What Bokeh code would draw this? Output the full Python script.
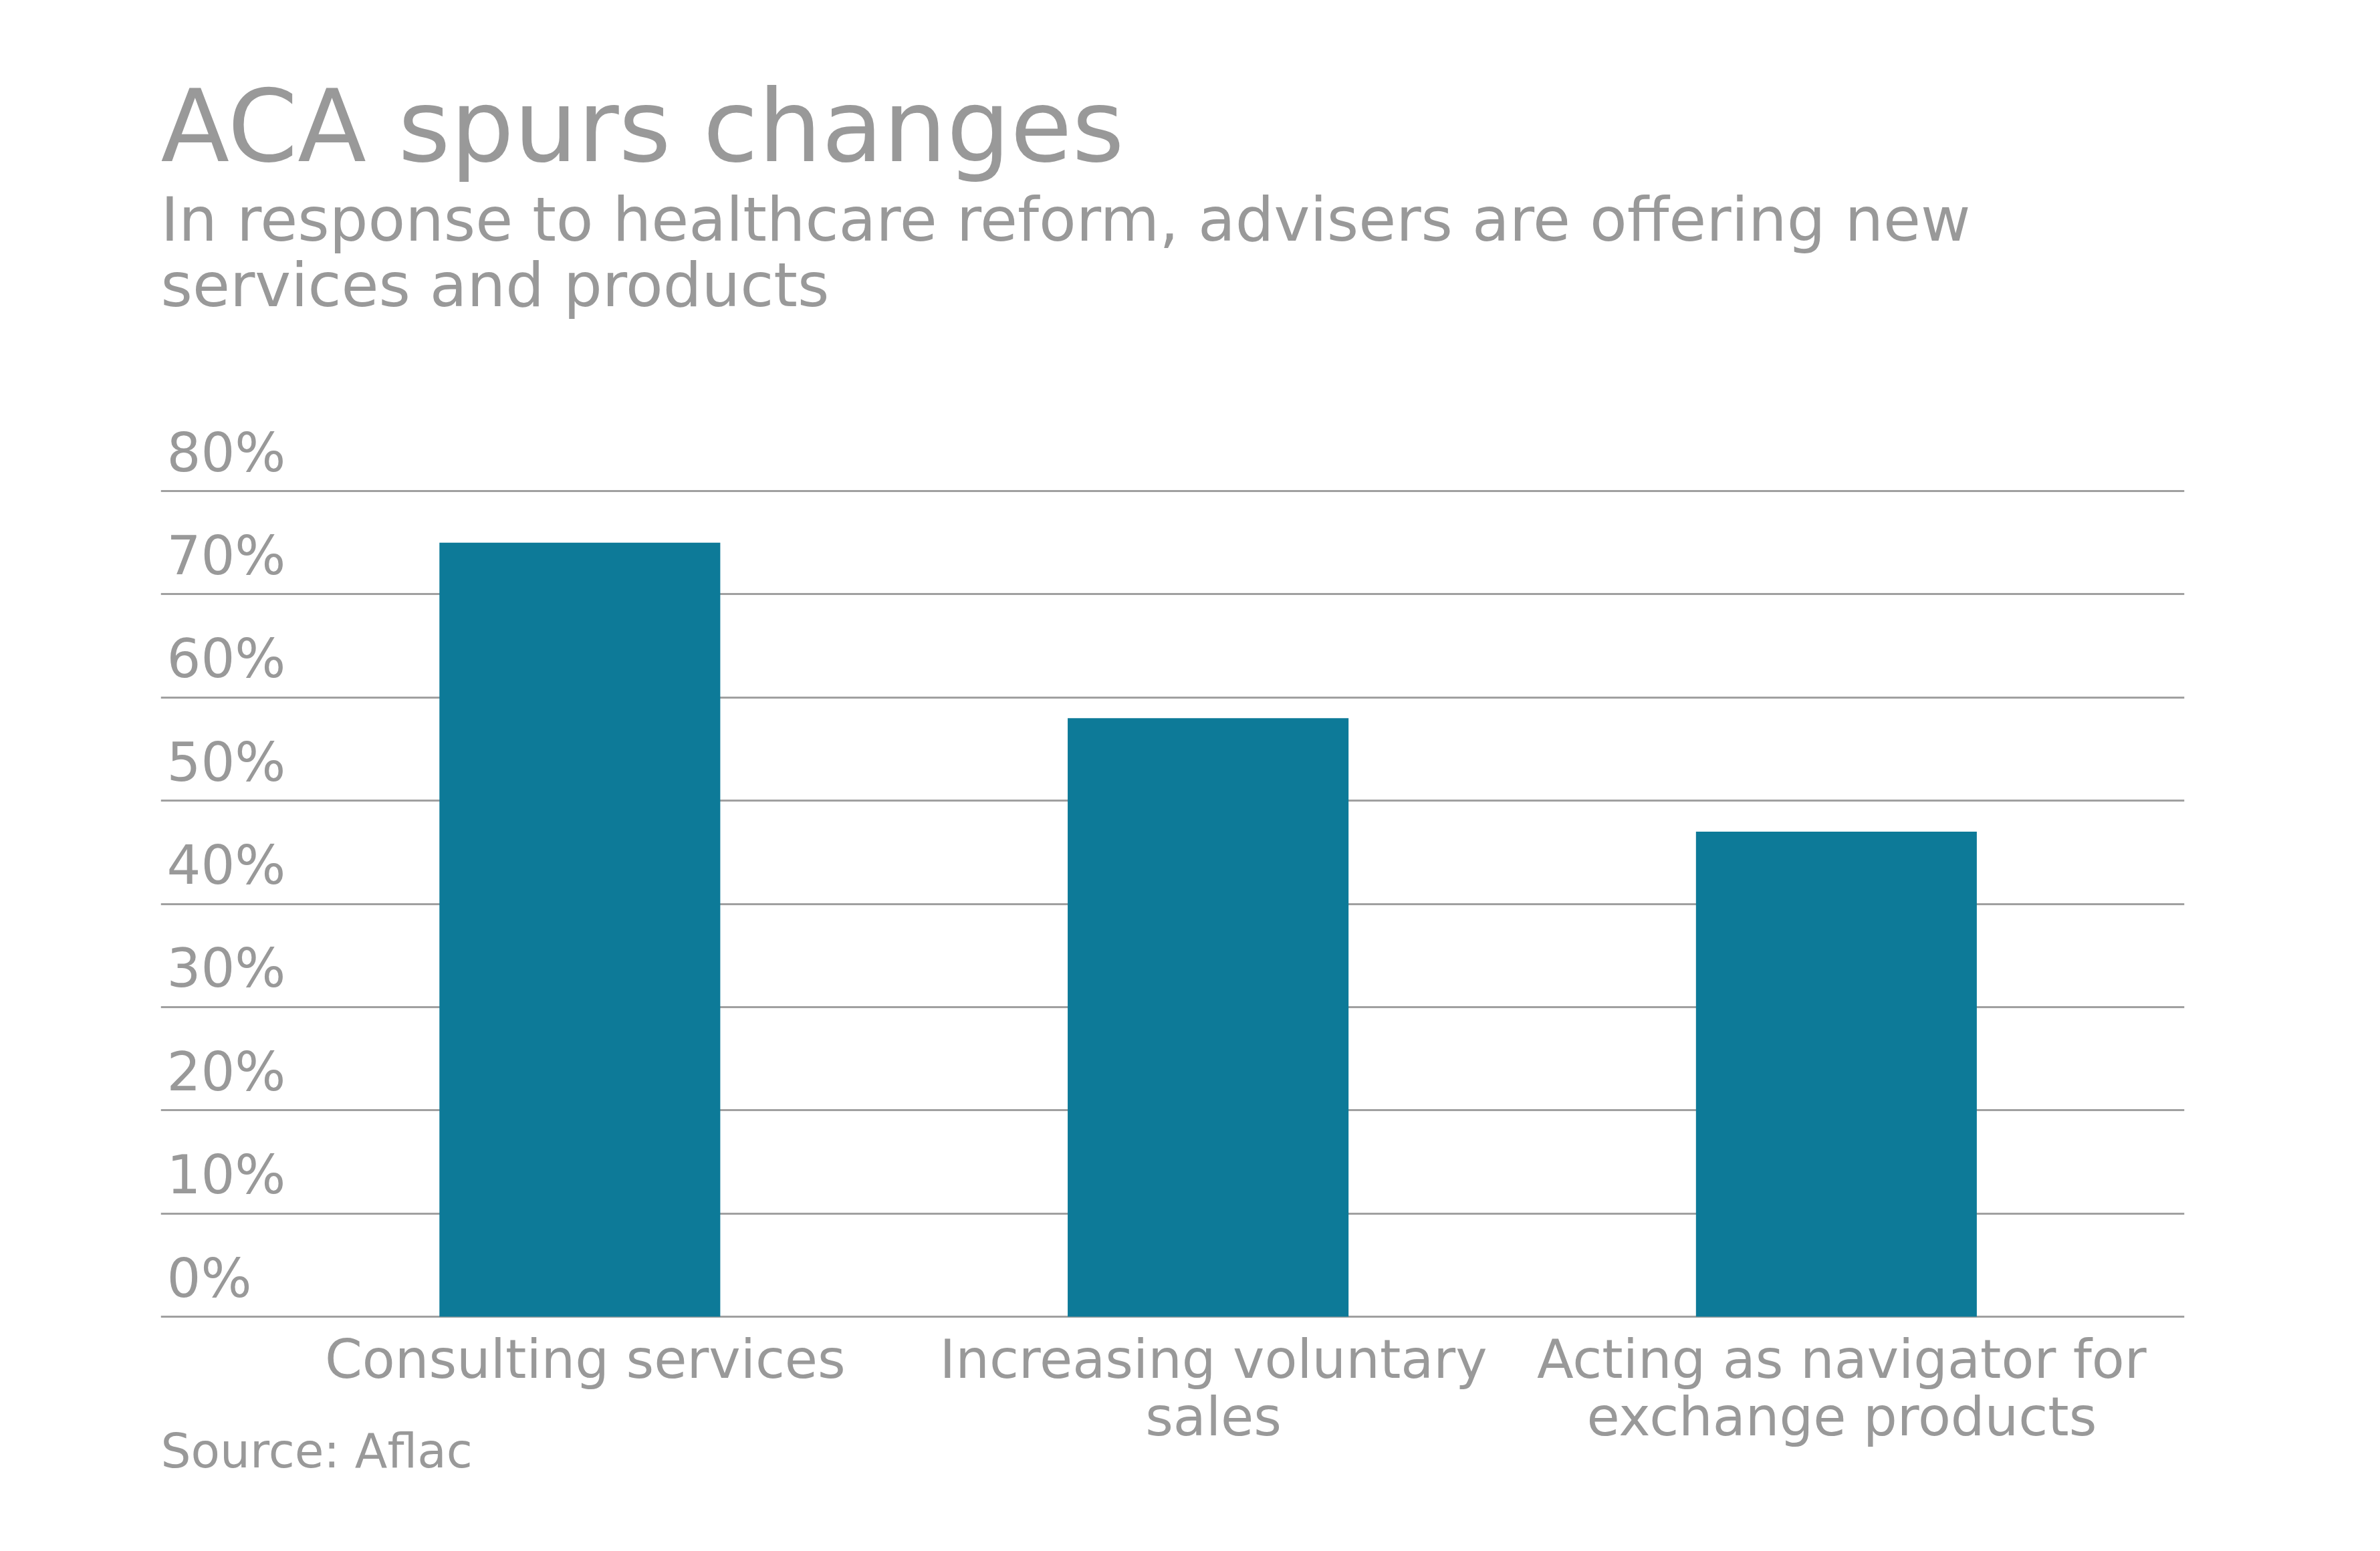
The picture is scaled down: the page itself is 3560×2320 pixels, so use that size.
import numpy as np

from bokeh.core.properties import value
from bokeh.embed import file_html
from bokeh.models import (ColumnDataSource, FixedTicker, Label, LabelSet,
                          Range1d)
from bokeh.plotting import figure
from bokeh.resources import INLINE

categories = ["Consulting services",
              "Increasing voluntary\nsales",
              "Acting as navigator for\nexchange products"]
shares = [75, 58, 47]
y_ticks = [0, 10, 20, 30, 40, 50, 60, 70, 80]
y_tick_labels = ["0%", "10%", "20%", "30%", "40%", "50%", "60%", "70%", "80%"]

FONT = "DejaVu Sans"
GREY = "#999999"
LINE = "#a0a0a0"
BAR = "#0d7a98"

x = np.arange(len(categories))
src = ColumnDataSource(data=dict(x=x, top=shares))

# the frame spans the full height so that title and notes are not clipped
p = figure(width=3544, height=2304, output_backend="svg",
           toolbar_location=None,
           x_range=Range1d(-0.667, 2.554), y_range=Range1d(-21.70, 127.55),
           min_border_left=240, min_border_right=277,
           min_border_top=0, min_border_bottom=0,
           background_fill_color="white", border_fill_color="white",
           outline_line_color=None)

p.vbar(x="x", top="top", bottom=0, width=0.447, source=src,
       fill_color=BAR, line_color=None)

p.xaxis.visible = False
p.yaxis.visible = False
p.xgrid.grid_line_color = None
p.ygrid.ticker = FixedTicker(ticks=y_ticks)
p.ygrid.grid_line_color = LINE
p.ygrid.grid_line_width = 3

# y tick labels sit above their grid lines
lab_src = ColumnDataSource(data=dict(y=y_ticks, text=y_tick_labels))
p.add_layout(LabelSet(x=9, y="y", text="text", source=lab_src,
                      x_units="screen", y_offset=30,
                      text_font=value(FONT), text_font_size="80px",
                      text_color=GREY, text_baseline="alphabetic"))

# category labels under the bars, one or two lines each
first = [c.split("\n")[0] for c in categories]
second = [c.split("\n")[1] if "\n" in c else "" for c in categories]
cat_src = ColumnDataSource(data=dict(x=x, y=np.zeros(len(x)),
                                     first=first, second=second))
for col, off in (("first", -91), ("second", -177)):
    p.add_layout(LabelSet(x="x", y="y", text=col, source=cat_src,
                          x_offset=8, y_offset=off, text_align="center",
                          text_font=value(FONT), text_font_size="80px",
                          text_color=GREY, text_baseline="alphabetic"))

# title, subtitle, source
p.add_layout(Label(x=0, y=2116, x_units="screen", y_units="screen",
                   text="ACA spurs changes", text_font=FONT,
                   text_font_size="150px", text_color=GREY,
                   text_baseline="alphabetic"))
p.add_layout(Label(x=0, y=1976, x_units="screen", y_units="screen",
                   text="In response to healthcare reform, advisers are offering new",
                   text_font=FONT, text_font_size="91px", text_color=GREY,
                   text_baseline="alphabetic"))
p.add_layout(Label(x=0, y=1878, x_units="screen", y_units="screen",
                   text="services and products",
                   text_font=FONT, text_font_size="91px", text_color=GREY,
                   text_baseline="alphabetic"))
p.add_layout(Label(x=0, y=134, x_units="screen", y_units="screen",
                   text="Source: Aflac",
                   text_font=FONT, text_font_size="71px", text_color=GREY,
                   text_baseline="alphabetic"))

open("out.html", "w").write(file_html(p, INLINE))
